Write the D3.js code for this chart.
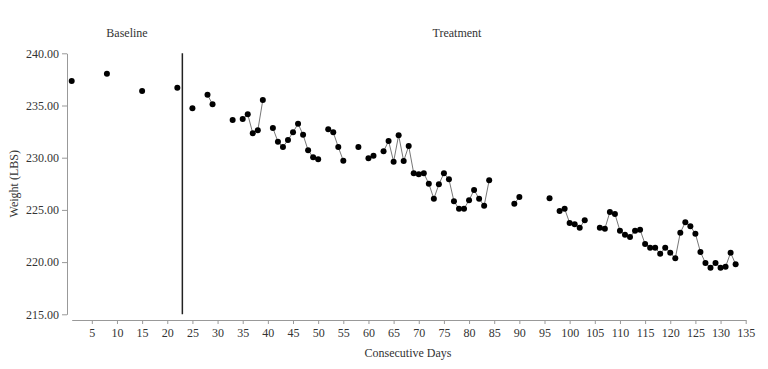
<!DOCTYPE html>
<html>
<head>
<meta charset="utf-8">
<script src="https://cdn.jsdelivr.net/npm/d3@7"></script>
<style>
body { margin: 0; background: #fff; }
text { font-family: "Liberation Serif", serif; fill: #333; }
.axis path, .axis line { stroke: #999; }
.axis text { font-size: 12px; fill: #333; font-family: "Liberation Serif", serif; }
</style>
</head>
<body>
<div id="chart"></div>
<script>
var baseDays = [1, 8, 15, 22];
var baseWeight = [237.35, 238.05, 236.4, 236.7];
var treatDays = [25, 28, 29, 33, 35, 36, 37, 38, 39, 41, 42, 43, 44, 45, 46, 47, 48, 49, 50,
  52, 53, 54, 55, 58, 60, 61, 63, 64, 65, 66, 67, 68, 69, 70, 71, 72, 73, 74, 75, 76, 77, 78,
  79, 80, 81, 82, 83, 84, 89, 90, 96, 98, 99, 100, 101, 102, 103, 106, 107, 108, 109, 110,
  111, 112, 113, 114, 115, 116, 117, 118, 119, 120, 121, 122, 123, 124, 125, 126, 127, 128,
  129, 130, 131, 132, 133];
var treatWeight = [234.73, 236.03, 235.11, 233.61, 233.71, 234.16, 232.34, 232.62, 235.53,
  232.84, 231.53, 231.02, 231.7, 232.43, 233.26, 232.2, 230.71, 230.04, 229.85,
  232.72, 232.43, 231.02, 229.71, 231.02, 229.94, 230.19, 230.61, 231.6, 229.62, 232.15,
  229.68, 231.12, 228.51, 228.41, 228.51, 227.51, 226.07, 227.45, 228.51, 227.93, 225.82,
  225.11, 225.11, 225.92, 226.91, 226.07, 225.4, 227.84, 225.59, 226.23, 226.11, 224.89,
  225.11, 223.75, 223.62, 223.3, 224.0, 223.3, 223.2, 224.8, 224.61, 223.0, 222.62, 222.4,
  223.0, 223.1, 221.73, 221.38, 221.38, 220.8, 221.38, 220.9, 220.36, 222.82, 223.81,
  223.43, 222.72, 220.97, 219.91, 219.46, 219.91, 219.46, 219.56, 220.9, 219.79];
var phaseChange = 23;
var yTicks = [215, 220, 225, 230, 235, 240];
var xTicks = d3.range(5, 136, 5);

var width = 768, height = 369;
var svg = d3.select("#chart").append("svg").attr("width", width).attr("height", height);

var x = d3.scaleLinear().domain([1, 135]).range([71.7, 745.7]);
var y = d3.scaleLinear().domain([215, 240]).range([314.3, 53.3]);

// axes
svg.append("g").attr("class", "axis")
  .attr("transform", "translate(67,0)")
  .call(d3.axisLeft(y).tickValues(yTicks).tickFormat(d3.format(".2f")).tickSize(5).tickSizeOuter(0).tickPadding(3));

svg.append("g").attr("class", "axis")
  .attr("transform", "translate(0,320)")
  .call(d3.axisBottom(x).tickValues(xTicks).tickSize(4).tickSizeOuter(0).tickPadding(4));

svg.selectAll(".axis .domain").attr("stroke", "#999");

// axis titles
svg.append("text").attr("x", 408).attr("y", 357).attr("text-anchor", "middle")
  .style("font-size", "12px").text("Consecutive Days");
svg.append("text").attr("transform", "translate(18," + (y(227.5)) + ") rotate(-90)")
  .attr("text-anchor", "middle").style("font-size", "12px").text("Weight (LBS)");

// phase labels
svg.append("text").attr("x", (x(1) + x(phaseChange)) / 2).attr("y", 37)
  .attr("text-anchor", "middle").style("font-size", "12px").text("Baseline");
svg.append("text").attr("x", (x(phaseChange) + x(d3.max(treatDays))) / 2 - 2).attr("y", 37)
  .attr("text-anchor", "middle").style("font-size", "12px").text("Treatment");

// phase change line
svg.append("line")
  .attr("x1", x(phaseChange)).attr("x2", x(phaseChange))
  .attr("y1", y(240)).attr("y2", y(215))
  .attr("stroke", "#222").attr("stroke-width", 1.5);

function toPoints(days, vals) {
  return days.map(function(d, i) { return { day: d, w: vals[i] }; });
}
// split into runs of consecutive days
function runs(pts) {
  var out = [], cur = [];
  pts.forEach(function(p, i) {
    if (i > 0 && p.day - pts[i - 1].day !== 1) { out.push(cur); cur = []; }
    cur.push(p);
  });
  if (cur.length) out.push(cur);
  return out;
}

var line = d3.line().x(function(d) { return x(d.day); }).y(function(d) { return y(d.w); });
var allPts = [toPoints(baseDays, baseWeight), toPoints(treatDays, treatWeight)];

allPts.forEach(function(pts) {
  svg.append("g").selectAll("path").data(runs(pts).filter(function(r) { return r.length > 1; }))
    .enter().append("path")
    .attr("d", line).attr("fill", "none").attr("stroke", "#777").attr("stroke-width", 1);
  svg.append("g").selectAll("circle").data(pts)
    .enter().append("circle")
    .attr("cx", function(d) { return x(d.day); })
    .attr("cy", function(d) { return y(d.w); })
    .attr("r", 3).attr("fill", "#000");
});
</script>
</body>
</html>
